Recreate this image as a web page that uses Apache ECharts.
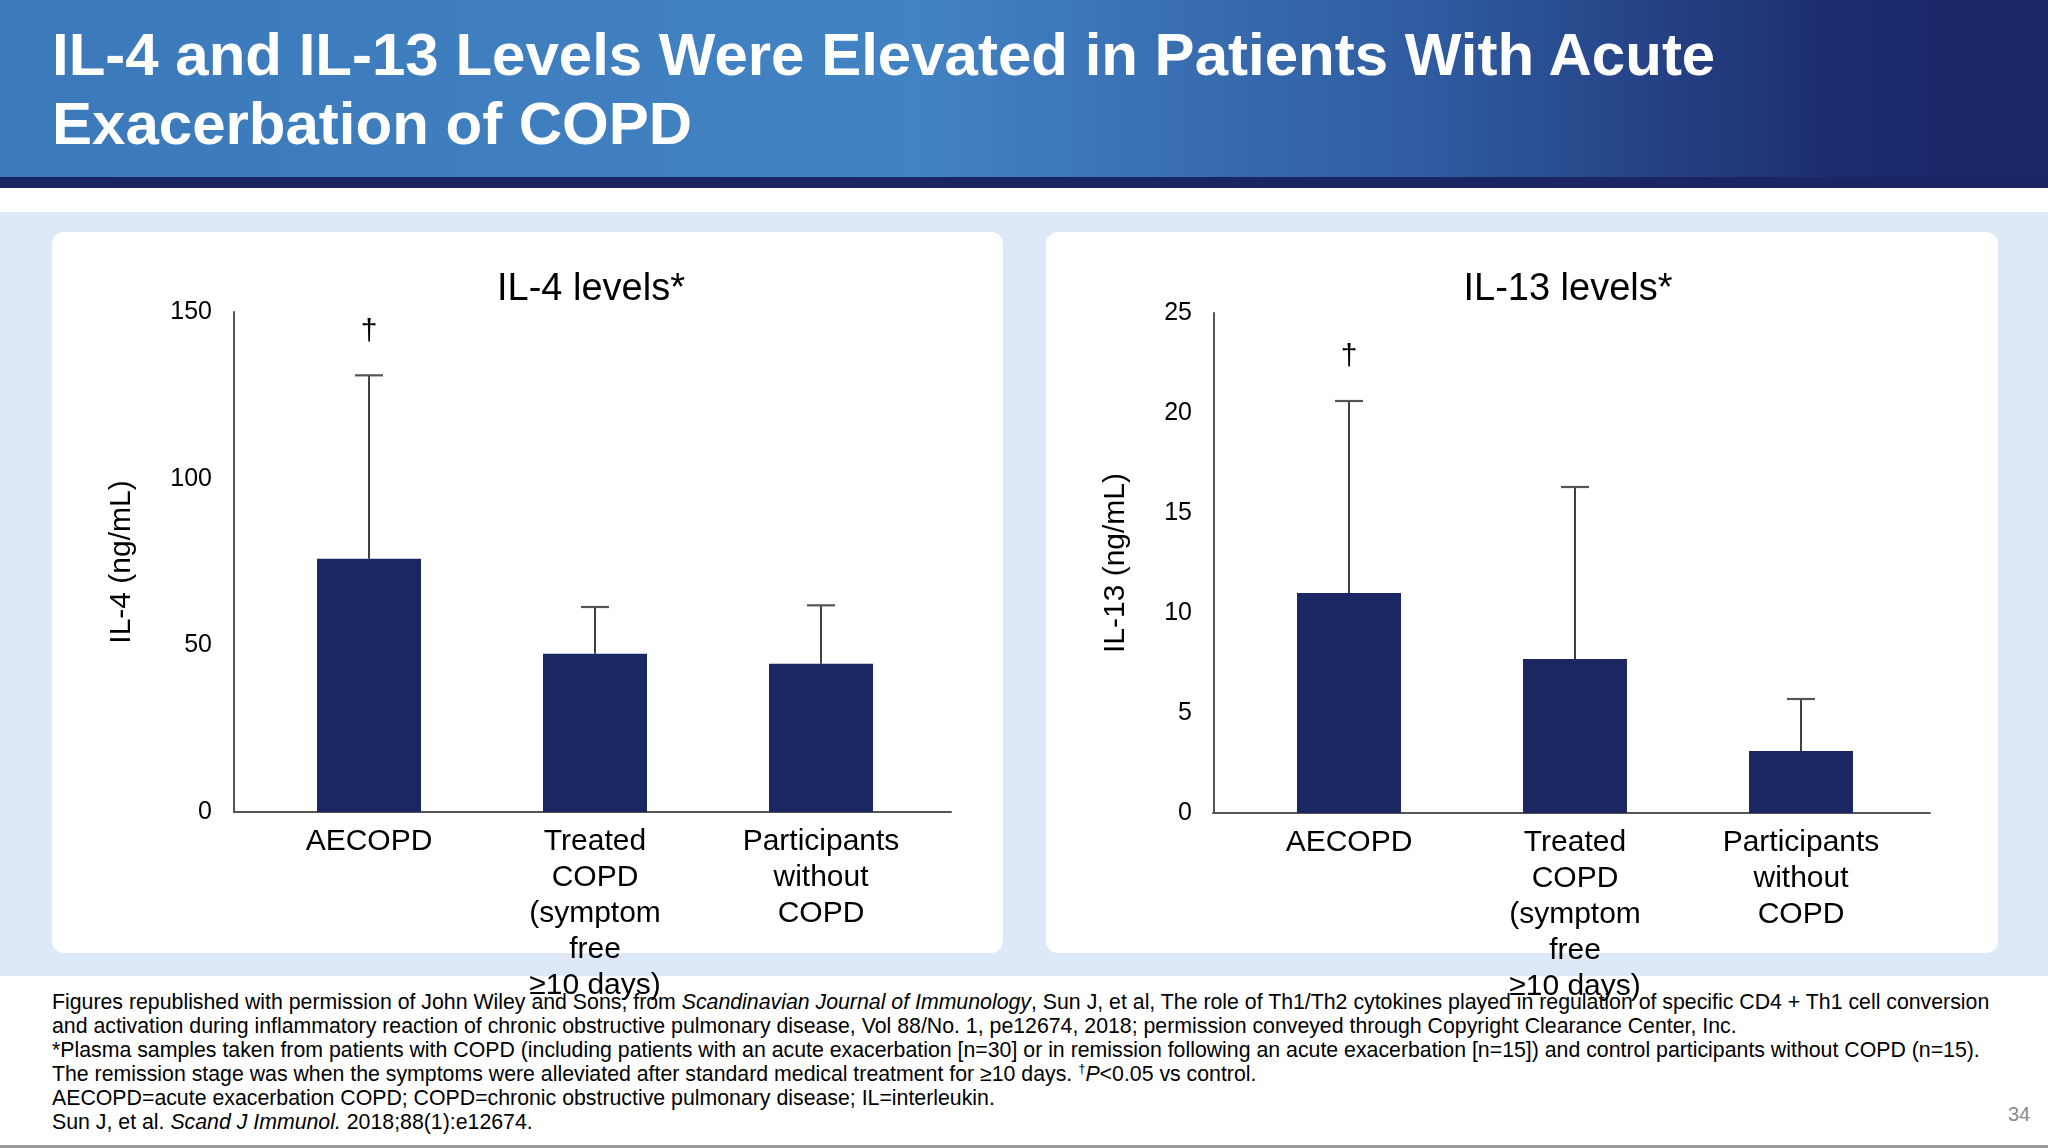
<!DOCTYPE html>
<html>
<head>
<meta charset="utf-8">
<script src="https://cdn.jsdelivr.net/npm/echarts@6.0.0/dist/echarts.min.js"></script>
<style>
  html, body { margin: 0; padding: 0; }
  body { width: 2048px; height: 1148px; position: relative; overflow: hidden; background: #fff;
         font-family: "Liberation Sans", Arial, sans-serif; }
  .header { position: absolute; left: 0; top: 0; width: 2048px; height: 177px;
            background: linear-gradient(90deg, #3b79ba 0%, #4283c3 45%, #2f5ba0 70%, #1c2c6d 90%, #1a2666 100%); }
  .band { position: absolute; left: 0; top: 177px; width: 2048px; height: 11px; background: #1a2664; }
  .header h1 { position: absolute; left: 52px; top: 20px; margin: 0; color: #fff; font-size: 60px;
               line-height: 69px; font-weight: bold; }
  .panel { position: absolute; left: 0; top: 212px; width: 2048px; height: 764px; background: #dde9f6; }
  .card { position: absolute; top: 232px; height: 721px; background: #fff; border-radius: 12px; }
  .notes { position: absolute; left: 52px; top: 990px; font-size: 21.3px; line-height: 24px; color: #000;
           white-space: nowrap; }
  .notes .sup { font-size: 13px; line-height: 0; position: relative; top: -8px; }
  .page { position: absolute; left: 2008px; top: 1103px; font-size: 20px; color: #8a8a8a; }
  .bottom { position: absolute; left: 0; top: 1145px; width: 2048px; height: 3px; background: #9a9a9a; }
  #chart { position: absolute; left: 0; top: 0; width: 2048px; height: 1148px; z-index: 5; }
</style>
</head>
<body>
<div class="header"><h1>IL-4 and IL-13 Levels Were Elevated in Patients With Acute<br>Exacerbation of COPD</h1></div>
<div class="band"></div>
<div class="panel"></div>
<div class="card" style="left:52px;width:951px"></div>
<div class="card" style="left:1046px;width:952px"></div>
<div class="notes">
Figures republished with permission of John Wiley and Sons, from <i>Scandinavian Journal of Immunology</i>, Sun J, et al, The role of Th1/Th2 cytokines played in regulation of specific CD4 + Th1 cell conversion<br>
and activation during inflammatory reaction of chronic obstructive pulmonary disease, Vol 88/No. 1, pe12674, 2018; permission conveyed through Copyright Clearance Center, Inc.<br>
*Plasma samples taken from patients with COPD (including patients with an acute exacerbation [n=30] or in remission following an acute exacerbation [n=15]) and control participants without COPD (n=15).<br>
The remission stage was when the symptoms were alleviated after standard medical treatment for ≥10 days. <span class="sup">†</span><i>P</i>&lt;0.05 vs control.<br>
AECOPD=acute exacerbation COPD; COPD=chronic obstructive pulmonary disease; IL=interleukin.<br>
Sun J, et al. <i>Scand J Immunol.</i> 2018;88(1):e12674.
</div>
<div class="page">34</div>
<div class="bottom"></div>
<div id="chart"></div>
<script>
// data
var categories = ['AECOPD', 'Treated\nCOPD\n(symptom\nfree\n≥10 days)', 'Participants\nwithout\nCOPD'];
var il4Mean = [76, 47.5, 44.5];
var il4Upper = [131, 61.5, 62];
var il4Marks = ['†', '', ''];
var il13Mean = [11, 7.7, 3.1];
var il13Upper = [20.6, 16.3, 5.7];
var il13Marks = ['†', '', ''];
var il4Axis = [0, 150, 50];   // min, max, interval
var il13Axis = [0, 25, 5];

var FONT = '"Liberation Sans", Arial, sans-serif';
var BAR = '#1b2763';
var AXIS = '#555555';

var myChart = echarts.init(document.getElementById('chart'));

function errItem(marks) {
  return function (params, api) {
    var x = api.value(0);
    var p0 = api.coord([x, api.value(1)]);
    var p1 = api.coord([x, api.value(2)]);
    var kids = [
      { type: 'line', shape: { x1: p0[0], y1: p0[1], x2: p1[0], y2: p1[1] },
        style: { stroke: '#111', lineWidth: 1.6 } },
      { type: 'line', shape: { x1: p1[0] - 14, y1: p1[1], x2: p1[0] + 14, y2: p1[1] },
        style: { stroke: '#555', lineWidth: 2.2 } }
    ];
    var m = marks[params.dataIndex];
    if (m) {
      kids.push({ type: 'text', style: { text: m, x: p1[0], y: p1[1] - 44, align: 'center',
        verticalAlign: 'middle', font: '30px ' + FONT, fill: '#000' } });
    }
    return { type: 'group', children: kids };
  };
}

function errData(mean, upper) {
  return mean.map(function (v, i) { return [i, v, upper[i]]; });
}

function catAxis(grid) {
  return {
    type: 'category', gridIndex: grid, data: categories,
    axisLine: { show: false }, axisTick: { show: false },
    axisLabel: { interval: 0, fontSize: 30, lineHeight: 36, margin: 12, color: '#000', fontFamily: FONT }
  };
}
function lineAxis(grid) {
  return {
    type: 'value', gridIndex: grid, min: 0, max: 1,
    axisLine: { show: true, lineStyle: { color: AXIS, width: 2 } },
    axisTick: { show: false }, axisLabel: { show: false }, splitLine: { show: false }
  };
}
function valAxis(grid, range, name, gap) {
  return {
    type: 'value', gridIndex: grid, min: range[0], max: range[1], interval: range[2], offset: 22,
    axisLine: { show: true, lineStyle: { color: AXIS, width: 2 } },
    axisTick: { show: false }, splitLine: { show: false },
    axisLabel: { fontSize: 25, margin: 22, color: '#000', fontFamily: FONT },
    name: name, nameLocation: 'middle', nameGap: gap,
    nameTextStyle: { fontSize: 30, color: '#000', fontFamily: FONT }
  };
}
function hiddenAxis(grid) {
  return { type: 'value', gridIndex: grid, show: false, min: 0, max: 1 };
}

myChart.setOption({
  animation: false,
  grid: [
    { left: 256, width: 678, top: 312, height: 500 },
    { left: 234, width: 717, top: 312, height: 500 },
    { left: 1236, width: 678, top: 313, height: 500 },
    { left: 1213, width: 717, top: 313, height: 500 }
  ],
  xAxis: [catAxis(0), lineAxis(1), catAxis(2), lineAxis(3)],
  yAxis: [valAxis(0, il4Axis, 'IL-4 (ng/mL)', 97), hiddenAxis(1),
          valAxis(2, il13Axis, 'IL-13 (ng/mL)', 83), hiddenAxis(3)],
  graphic: [
    { type: 'text', style: { text: 'IL-4 levels*', x: 591, y: 290, align: 'center', verticalAlign: 'middle',
      font: '38px ' + FONT, fill: '#000' } },
    { type: 'text', style: { text: 'IL-13 levels*', x: 1568, y: 290, align: 'center', verticalAlign: 'middle',
      font: '38px ' + FONT, fill: '#000' } }
  ],
  series: [
    { type: 'bar', xAxisIndex: 0, yAxisIndex: 0, data: il4Mean, barWidth: 104, itemStyle: { color: BAR } },
    { type: 'custom', xAxisIndex: 0, yAxisIndex: 0, data: errData(il4Mean, il4Upper),
      renderItem: errItem(il4Marks), clip: false, z: 3 },
    { type: 'bar', xAxisIndex: 2, yAxisIndex: 2, data: il13Mean, barWidth: 104, itemStyle: { color: BAR } },
    { type: 'custom', xAxisIndex: 2, yAxisIndex: 2, data: errData(il13Mean, il13Upper),
      renderItem: errItem(il13Marks), clip: false, z: 3 }
  ]
});
</script>
</body>
</html>
